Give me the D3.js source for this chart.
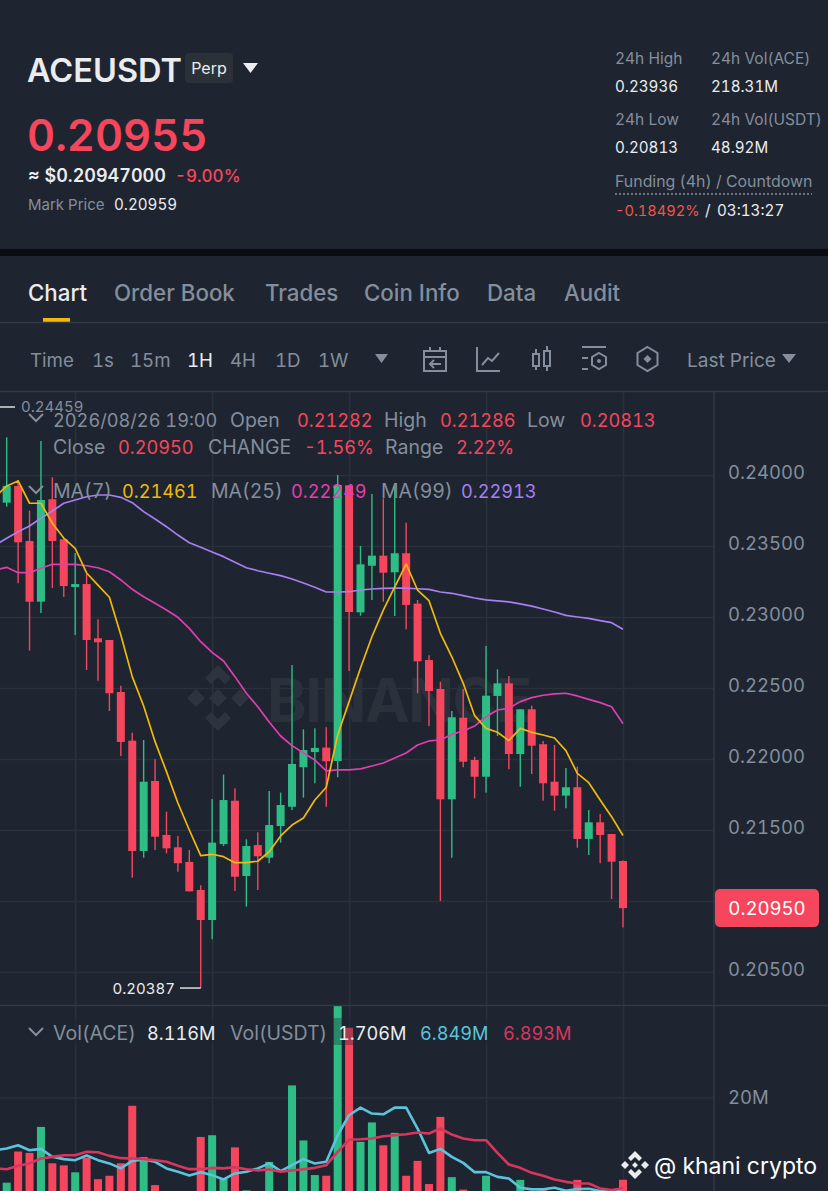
<!DOCTYPE html>
<html>
<head>
<meta charset="utf-8">
<script src="https://cdn.jsdelivr.net/npm/d3@7"></script>
<style>
html, body { margin: 0; padding: 0; background: #1e2530; }
svg { display: block; }
text { font-family: Inter, "Open Sans", sans-serif; font-feature-settings: "tnum"; }
.axis-price .domain, .axis-vol .domain { display: none; }
.axis-price .tick line, .axis-vol .tick line { display: none; }
.axis-price .tick text, .axis-vol .tick text { fill: #848e9c; font-size: 18.5px; font-family: Inter, sans-serif; }
.grid .domain { display: none; }
.grid .tick line { stroke: #2a313c; stroke-width: 1.6; }
.grid text { display: none; }
</style>
</head>
<body>
<svg id="chart" width="828" height="1191"></svg>
<script>
const open = [.23805,.23923,.23535,.23108,.23829,.23547,.23211,.23232,.2285,.22838,.22472,.22129,.21352,.21845,.21465,.21378,.21275,.21078,.20866,.21401,.21706,.21176,.21394,.21305,.21528,.21664,.21942,.22049,.2208,.21986,.23927,.23033,.23361,.23432,.23315,.23449,.23094,.22697,.22493,.21716,.22291,.21993,.21875,.22444,.22533,.22035,.2235,.22104,.2184,.21742,.21801,.21437,.21554,.21472,.21282];
const close = [.23923,.23526,.23108,.23824,.23535,.23218,.23232,.22838,.22822,.22463,.2212,.21352,.2184,.21453,.21371,.21266,.21068,.20866,.21411,.21711,.21171,.21387,.21315,.21535,.21676,.21965,.22063,.22078,.21984,.2393,.23035,.23371,.23432,.23312,.23449,.23085,.22688,.22479,.21716,.22294,.21981,.21875,.22446,.22533,.22035,.2235,.22094,.21829,.21742,.21801,.21437,.21554,.21465,.21277,.2095];
const high = [.24265,.23965,.23749,.24239,.23984,.23547,.23451,.23303,.22984,.22838,.22516,.22185,.22134,.21998,.21629,.21458,.21359,.21111,.21718,.2189,.21794,.21435,.21484,.21775,.21763,.22662,.22209,.22216,.22223,.24,.23927,.235,.23866,.23836,.23942,.23664,.2312,.2273,.22544,.22338,.22493,.22016,.22796,.22632,.22585,.2235,.22375,.22127,.22099,.21937,.21946,.21641,.21613,.21472,.21286];
const low = [.23777,.23237,.22763,.23028,.23204,.23141,.22873,.22627,.22551,.22338,.22021,.21164,.21305,.21359,.21336,.21206,.21068,.20387,.2073,.21387,.21071,.2096,.21078,.21266,.21411,.21641,.21728,.21829,.21664,.21871,.2262,.23009,.2312,.23108,.23007,.22913,.22463,.22232,.21,.21305,.21942,.21723,.21763,.22162,.21928,.21805,.21894,.21706,.21636,.21653,.21375,.21324,.21266,.21014,.20813];
const volume = [7.7,12.2,12.0,15.75,10.5,10.2,9.2,11.3,8.2,8.7,10.5,18.8,11.4,7.35,5.5,5.2,5.8,14.3,14.55,8.3,12.8,6.6,5,10.7,5.5,21.75,13.8,8.8,8.7,33.4,30.07,13.6,16.4,13.1,14.9,8.7,10.85,7.5,17.2,8.5,6.7,5,8.7,4.5,4,8.1,4.5,6.6,4,3.5,8.1,5,4,6.5,8.116];

// moving averages start one candle left of the first visible one
const ma7 = [.23845,.23923,.23958,.23801,.23801,.2366,.23556,.23484,.2331,.23225,.23139,.22873,.2258,.22373,.22122,.21911,.2169,.215,.21319,.21329,.21312,.2127,.2127,.2128,.21347,.21458,.21535,.21585,.21711,.21801,.22169,.22404,.22641,.22861,.23049,.23213,.23373,.2319,.23115,.22885,.2272,.22533,.22305,.22216,.22188,.22129,.22216,.22188,.22169,.22148,.22059,.21899,.21833,.21711,.21594,.21461];
const ma25 = [.23331,.2335,.23312,.23312,.23343,.23371,.23371,.23371,.23361,.23347,.23319,.23261,.23195,.23143,.23097,.23049,.22998,.2292,.22826,.22751,.2269,.2258,.22463,.22368,.22261,.22162,.22094,.22042,.21993,.21916,.21923,.21923,.2193,.21951,.21972,.22007,.22042,.22099,.22127,.22134,.22173,.22197,.22232,.22298,.22345,.22357,.22404,.22432,.22449,.22458,.22463,.22444,.2242,.22397,.22368,.22249];
const ma99 = [.23507,.23554,.23601,.23641,.23695,.23746,.23801,.23824,.23847,.23859,.23859,.23843,.23805,.23742,.2369,.23636,.23577,.23523,.23491,.23458,.23425,.23385,.23347,.23326,.23308,.23291,.23268,.23239,.23209,.23176,.23176,.23178,.2319,.23197,.23202,.23204,.23204,.23199,.23195,.23176,.23167,.2315,.23134,.2312,.23113,.23106,.23092,.23077,.23056,.23035,.23011,.23,.2299,.22975,.2296,.22913];
const volMaBlue = [12.39,12.64,13.11,12.39,12.58,11.43,11.1,10.95,11.63,10.95,10.48,9.76,10.85,11.05,10.71,9.76,9.27,8.75,9.22,8.79,8.17,9.03,9.27,9.76,10.48,9.37,10.23,11.1,10.48,10.71,14.55,17.44,18.54,17.68,17.58,18.54,18.54,15.52,12.0,12.58,11.43,10.56,9.22,9.22,8.54,8.31,6.96,6.73,6.73,6.96,6.53,6.77,6.82,6.48,6.4,6.849];
const volMaRed = [9.76,9.65,10.13,10.48,11.2,11.43,11.67,11.67,12.15,12.1,11.57,11.24,11.2,11.1,10.95,10.71,10.13,9.65,9.65,9.84,9.76,9.94,9.65,9.47,9.61,9.27,9.47,9.65,9.84,10.23,12.15,13.93,13.98,14.08,14.41,14.55,14.7,14.94,14.8,15.52,14.65,14.08,13.83,13.83,12.0,10.33,9.84,9.12,8.69,8.17,7.82,7.59,7.59,6.87,6.63,6.893];

const priceTicks = [0.24, 0.235, 0.23, 0.225, 0.22, 0.215, 0.21, 0.205];
const volTicks = [20];
const gridCandles = [-6, 6, 18, 30, 42, 54];
const timeframes = [['Time',30,0],['1s',92,0],['15m',130,0],['1H',187,1],['4H',230,0],['1D',275,0],['1W',318,0]];
const tabs = [['Chart',28],['Order Book',114],['Trades',265],['Coin Info',364],['Data',487],['Audit',564]];

const GREEN = '#2ebd85', RED = '#f6465d', GREY = '#848e9c', WHITE = '#eaecef', BG = '#1e2530';

const svg = d3.select('#chart');
const W = 828, H = 1191, axisX = 714, paneTop = 392, paneBottom = 1005;

const x = d3.scaleLinear().domain([0, 54]).range([6.7, 623]);
const y = d3.scaleLinear().domain([0.24, 0.205]).range([475, 972]);
const yVol = d3.scaleLinear().domain([0, 20]).range([1236, 1097.5]);

svg.append('rect').attr('width', W).attr('height', H).attr('fill', BG);

function txt(parent, s, px, py, size, fill, weight, anchor) {
    return parent.append('text').attr('x', px).attr('y', py)
        .attr('font-size', size).attr('fill', fill)
        .attr('font-weight', weight || 400)
        .attr('text-anchor', anchor || 'start').text(s);
}

// header
const head = svg.append('g');
head.append('rect').attr('x', 0).attr('y', 249).attr('width', W).attr('height', 7).attr('fill', '#0b0e11');
txt(head, 'ACEUSDT', 27, 82, 32.5, WHITE, 600);
head.append('rect').attr('x', 185).attr('y', 53).attr('width', 48).attr('height', 30).attr('rx', 4).attr('fill', '#2b3139');
txt(head, 'Perp', 209, 74, 16, WHITE, 400, 'middle');
head.append('path').attr('d', 'M243,63 L258,63 L250.5,73 Z').attr('fill', WHITE);
txt(head, '0.20955', 27, 151, 43.5, RED, 600);
txt(head, '≈ $0.20947000', 28, 182, 18, WHITE, 600);
txt(head, '-9.00%', 175, 182, 17, RED, 500);
txt(head, 'Mark Price', 28, 210, 15, GREY);
txt(head, '0.20959', 114, 210, 15.2, WHITE);
txt(head, '24h High', 615, 64, 15.5, GREY);
txt(head, '24h Vol(ACE)', 711, 64, 15.5, GREY);
txt(head, '0.23936', 615, 92, 15.2, WHITE);
txt(head, '218.31M', 711, 92, 15.2, WHITE);
txt(head, '24h Low', 615, 125, 15.5, GREY);
txt(head, '24h Vol(USDT)', 711, 125, 15.5, GREY);
txt(head, '0.20813', 615, 153, 15.2, WHITE);
txt(head, '48.92M', 711, 153, 15.2, WHITE);
txt(head, 'Funding (4h) / Countdown', 615, 187, 15.9, GREY);
head.append('line').attr('x1', 615).attr('x2', 812).attr('y1', 194).attr('y2', 194)
    .attr('stroke', GREY).attr('stroke-width', 1.3).attr('stroke-dasharray', '2,2');
txt(head, '-0.18492%', 615, 216, 14.6, '#f0564a');
txt(head, '/', 705, 216, 15.5, WHITE);
txt(head, '03:13:27', 717, 216, 15.2, WHITE);

// tabs
tabs.forEach(function (t, i) {
    txt(head, t[0], t[1], 300.5, 22.3, i === 0 ? WHITE : GREY, 500);
});
head.append('rect').attr('x', 43).attr('y', 318).attr('width', 27).attr('height', 5).attr('fill', '#f0b90b');
head.append('line').attr('x1', 0).attr('x2', W).attr('y1', 322.5).attr('y2', 322.5).attr('stroke', '#333a45').attr('stroke-width', 1.5);

// toolbar
timeframes.forEach(function (t) {
    txt(head, t[0], t[1], 367, 18.7, t[2] ? WHITE : GREY);
});
head.append('path').attr('d', 'M375,354 L388,354 L381.5,363 Z').attr('fill', GREY);
head.append('path').attr('d', 'M782,354 L796,354 L789,363 Z').attr('fill', GREY);
txt(head, 'Last Price', 687, 367, 19, GREY);
const iconStyle = function (p) { return p.attr('fill', 'none').attr('stroke', GREY).attr('stroke-width', 2); };
iconStyle(head.append('path')).attr('d', 'M424,351 h22 v20 h-22 z M424,357 h22 M430,347 v4 M440,347 v4 M441,364 h-11 M434,360 l-4,4 l4,4');
iconStyle(head.append('path')).attr('d', 'M477,347 v24 h23 M482,365 l6,-7 l4,3 l7,-8');
iconStyle(head.append('path')).attr('d', 'M533,354 h6 v12 h-6 z M544,351 h6 v15 h-6 z M536,349 v5 M536,366 v4 M547,346 v5 M547,366 v5');
iconStyle(head.append('path')).attr('d', 'M582,347 h24 M582,358 h6 M582,369 h6 M599,353 l7,4 v8 l-7,4 l-7,-4 v-8 z');
head.append('circle').attr('cx', 599).attr('cy', 361).attr('r', 2).attr('fill', GREY);
iconStyle(head.append('path')).attr('d', 'M647.5,347 l10,6 v12 l-10,6 l-10,-6 v-12 z');
head.append('path').attr('d', 'M647.5,355 l4,4 l-4,4 l-4,-4 z').attr('fill', GREY);
head.append('line').attr('x1', 0).attr('x2', W).attr('y1', 391.5).attr('y2', 391.5).attr('stroke', '#333a45').attr('stroke-width', 1.5);

// grid
const gridG = svg.append('g').attr('class', 'grid');
gridG.append('g').attr('transform', 'translate(0,0)')
    .call(d3.axisLeft(y).tickValues(priceTicks).tickSize(-axisX));
gridG.append('g')
    .call(d3.axisLeft(yVol).tickValues(volTicks).tickSize(-axisX));
gridG.append('g').attr('transform', 'translate(0,' + H + ')')
    .call(d3.axisTop(x).tickValues(gridCandles).tickSize(H - paneTop));

// watermark
const wm = svg.append('g');
const wmLogo = 'M218,665 l13,13 l-6,6 l-7,-7 l-7,7 l-6,-6 z M218,731 l13,-13 l-6,-6 l-7,7 l-7,-7 l-6,6 z M187,698 l9,-9 l9,9 l-9,9 z M231,698 l9,-9 l9,9 l-9,9 z M218,689 l9,9 l-9,9 l-9,-9 z';
wm.append('path').attr('d', wmLogo).attr('fill', '#2d343e');
txt(wm, 'BINANCE', 267, 722, 60, '#2a313b', 700).attr('textLength', 265);

// clip areas
const defs = svg.append('defs');
defs.append('clipPath').attr('id', 'pane').append('rect').attr('x', 0).attr('y', paneTop).attr('width', axisX).attr('height', paneBottom - paneTop);
defs.append('clipPath').attr('id', 'volpane').append('rect').attr('x', 0).attr('y', paneBottom).attr('width', axisX).attr('height', H - paneBottom);

const indices = d3.range(open.length);
const colorOf = function (i) { return close[i] >= open[i] ? GREEN : RED; };

// candles
const price = svg.append('g').attr('clip-path', 'url(#pane)');
price.selectAll('.wick').data(indices).enter().append('line')
    .attr('class', 'wick')
    .attr('x1', function (d) { return x(d); })
    .attr('x2', function (d) { return x(d); })
    .attr('y1', function (d) { return y(high[d]); })
    .attr('y2', function (d) { return y(low[d]); })
    .attr('stroke', colorOf).attr('stroke-width', 1.4);
price.selectAll('.body').data(indices).enter().append('rect')
    .attr('class', 'body')
    .attr('x', function (d) { return x(d) - 4; })
    .attr('width', 8)
    .attr('y', function (d) { return y(Math.max(open[d], close[d])); })
    .attr('height', function (d) { return Math.max(2, Math.abs(y(open[d]) - y(close[d]))); })
    .attr('fill', colorOf);

// moving average lines
const lineFor = function (scale) {
    return d3.line().x(function (d, i) { return x(i - 1); }).y(function (d) { return scale(d); });
};
[[ma99, '#a67ff0'], [ma25, '#e03fae'], [ma7, '#f0b90b']].forEach(function (s) {
    price.append('path').attr('d', lineFor(y)(s[0])).attr('fill', 'none')
        .attr('stroke', s[1]).attr('stroke-width', 1.7).attr('stroke-linejoin', 'round');
});

// high / low marks
price.append('line').attr('x1', 180).attr('x2', x(17)).attr('y1', y(0.20387)).attr('y2', y(0.20387)).attr('stroke', WHITE).attr('stroke-width', 1.4);
txt(svg, '0.20387', 175, 994, 15, WHITE, 400, 'end');
price.append('line').attr('x1', 0).attr('x2', 15).attr('y1', 407).attr('y2', 407).attr('stroke', WHITE).attr('stroke-width', 1.4);
txt(svg, '0.24459', 21, 412, 15, GREY);

// volume bars
const vol = svg.append('g').attr('clip-path', 'url(#volpane)');
vol.selectAll('.vbar').data(indices).enter().append('rect')
    .attr('class', 'vbar')
    .attr('x', function (d) { return x(d) - 4; })
    .attr('width', 8)
    .attr('y', function (d) { return yVol(volume[d]); })
    .attr('height', function (d) { return yVol(0) - yVol(volume[d]); })
    .attr('fill', colorOf);
[[volMaBlue, '#5cc3dc'], [volMaRed, '#d8355f']].forEach(function (s) {
    vol.append('path').attr('d', lineFor(yVol)(s[0])).attr('fill', 'none')
        .attr('stroke', s[1]).attr('stroke-width', 2.6).attr('stroke-linejoin', 'round');
});

// pane borders
svg.append('line').attr('x1', axisX).attr('x2', axisX).attr('y1', paneTop).attr('y2', H).attr('stroke', '#333a45').attr('stroke-width', 1.5);
svg.append('line').attr('x1', 0).attr('x2', W).attr('y1', paneBottom + 0.5).attr('y2', paneBottom + 0.5).attr('stroke', '#333a45').attr('stroke-width', 1.5);

// axes
svg.append('g').attr('class', 'axis-price').attr('transform', 'translate(719,-2)')
    .call(d3.axisRight(y).tickValues(priceTicks.filter(function (t) { return t !== 0.21; })).tickFormat(d3.format('.5f')).tickPadding(9).tickSize(0));
svg.append('g').attr('class', 'axis-vol').attr('transform', 'translate(719,0)')
    .call(d3.axisRight(yVol).tickValues(volTicks).tickFormat(function (d) { return d + 'M'; }).tickPadding(9).tickSize(0));

// last price tag
svg.append('rect').attr('x', 715).attr('y', y(0.2095) - 19).attr('width', 104).attr('height', 38).attr('rx', 5).attr('fill', RED);
txt(svg, '0.20950', 767, y(0.2095) + 7, 18.6, '#fff', 400, 'middle');

// legends
const chevron = function (cy) {
    svg.append('path').attr('d', 'M29,' + (cy - 4) + ' l7,7 l7,-7').attr('fill', 'none').attr('stroke', GREY).attr('stroke-width', 2);
};
chevron(418); chevron(490); chevron(1032);

// numbers run wider than labels with tabular digits
const legend = function (parts, py) {
    parts.forEach(function (p) {
        txt(svg, p[0], p[1], py, /^[-\d]/.test(p[0]) ? 18.2 : 19.5, p[2]);
    });
};
legend([['2026/08/26 19:00', 53, GREY], ['Open', 230, GREY], ['0.21282', 297, RED], ['High', 384, GREY], ['0.21286', 440, RED], ['Low', 527, GREY], ['0.20813', 580, RED]], 427);
legend([['Close', 53, GREY], ['0.20950', 118, RED], ['CHANGE', 208, GREY], ['-1.56%', 304, RED], ['Range', 385, GREY], ['2.22%', 456, RED]], 454);
legend([['MA(7)', 53, GREY], ['0.21461', 122, '#f0b90b'], ['MA(25)', 211, GREY], ['0.22249', 291, '#e03fae'], ['MA(99)', 381, GREY], ['0.22913', 461, '#a67ff0']], 498);
svg.append('rect').attr('x', 50).attr('y', 1018).attr('width', 500).attr('height', 27).attr('fill', BG).attr('opacity', 0.35);
legend([['Vol(ACE)', 53, GREY], ['8.116M', 147, WHITE], ['Vol(USDT)', 230, GREY], ['1.706M', 338, WHITE], ['6.849M', 420, '#5cc3dc'], ['6.893M', 503, '#d8355f']], 1040);

// corner mark
const mark = svg.append('g').attr('transform', 'translate(635,1165)');
mark.append('path').attr('d', 'M0,-14 l7,7 l-3,3 l-4,-4 l-4,4 l-3,-3 z M0,14 l7,-7 l-3,-3 l-4,4 l-4,-4 l-3,3 z M-14,0 l4,-4 l4,4 l-4,4 z M14,0 l-4,-4 l-4,4 l4,4 z M0,-3 l3,3 l-3,3 l-3,-3 z').attr('fill', '#eaecef');
txt(svg, '@ khani crypto', 654, 1174, 23, '#fff');
</script>
</body>
</html>
